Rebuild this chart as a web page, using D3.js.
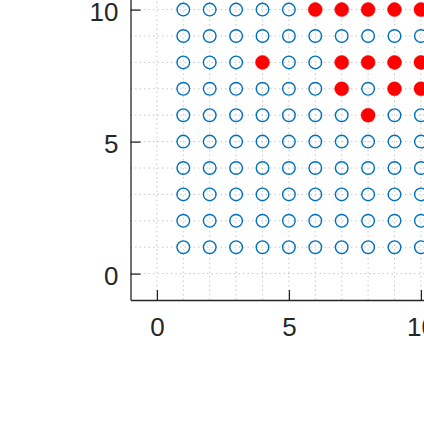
<!DOCTYPE html>
<html>
<head>
<meta charset="utf-8">
<script src="https://cdn.jsdelivr.net/npm/d3@7"></script>
<style>
  html, body { margin: 0; padding: 0; background: #fff; }
  svg { display: block; }
</style>
</head>
<body>
<div id="chart"></div>
<script>
'use strict';
// grid of markers: x columns and y rows
const cols = [1, 2, 3, 4, 5, 6, 7, 8, 9, 10];
const rows = [1, 2, 3, 4, 5, 6, 7, 8, 9, 10];
// highlighted (red) markers, as [x, y]
const filledX = [6, 7, 8, 9, 10, 4, 7, 8, 9, 10, 7, 9, 10, 8];
const filledY = [10, 10, 10, 10, 10, 8, 8, 8, 8, 8, 7, 7, 7, 6];
const xTicks = [0, 5, 10];
const yTicks = [0, 5, 10];
const gridVals = [0, 1, 2, 3, 4, 5, 6, 7, 8, 9, 10];

const W = 424, H = 428;
const unit = 26.4;
const x0 = 130.5, yBase = 300;

const x = d3.scaleLinear().domain([-1, 11]).range([x0, x0 + 12 * unit]);
const y = d3.scaleLinear().domain([-1, 11]).range([yBase, yBase - 12 * unit]);

const svg = d3.select('#chart').append('svg')
  .attr('width', W)
  .attr('height', H);

const font = '"Liberation Sans", Arial, Helvetica, sans-serif';

// dotted grid
const grid = svg.append('g').attr('class', 'grid');
grid.selectAll('line.gx')
  .data(gridVals)
  .enter().append('line')
  .attr('class', 'gx')
  .attr('x1', d => x(d)).attr('x2', d => x(d))
  .attr('y1', y(-1)).attr('y2', y(11))
  .attr('stroke', '#c8c8c8')
  .attr('stroke-width', 1)
  .attr('stroke-dasharray', '1.5,3');
grid.selectAll('line.gy')
  .data(gridVals)
  .enter().append('line')
  .attr('class', 'gy')
  .attr('y1', d => y(d)).attr('y2', d => y(d))
  .attr('x1', x(-1)).attr('x2', x(11))
  .attr('stroke', '#c8c8c8')
  .attr('stroke-width', 1)
  .attr('stroke-dasharray', '1.5,3');

// markers
let points = [];
rows.forEach(function(r) {
  cols.forEach(function(c) {
    points.push({ x: c, y: r });
  });
});
const isFilled = (d) => filledX.some((fx, i) => fx === d.x && filledY[i] === d.y);

svg.append('g').attr('class', 'open')
  .selectAll('circle')
  .data(points.filter(d => !isFilled(d)))
  .enter().append('circle')
  .attr('cx', d => x(d.x))
  .attr('cy', d => y(d.y))
  .attr('r', 6.3)
  .attr('fill', 'none')
  .attr('stroke', '#0072bd')
  .attr('stroke-width', 1.4);

svg.append('g').attr('class', 'filled')
  .selectAll('circle')
  .data(filledX.map((fx, i) => ({ x: fx, y: filledY[i] })))
  .enter().append('circle')
  .attr('cx', d => x(d.x))
  .attr('cy', d => y(d.y))
  .attr('r', 7)
  .attr('fill', '#ff0000')
  .attr('stroke', '#ff0000')
  .attr('stroke-width', 0.5);

// axes (ticks pointing inward)
const xAxis = svg.append('g')
  .attr('transform', 'translate(0,' + yBase + ')')
  .call(d3.axisBottom(x).tickValues(xTicks).tickSizeInner(-10).tickSizeOuter(0).tickPadding(18));
const yAxis = svg.append('g')
  .attr('transform', 'translate(' + x0 + ',0)')
  .call(d3.axisLeft(y).tickValues(yTicks).tickSizeInner(-10).tickSizeOuter(0).tickPadding(12));

[xAxis, yAxis].forEach(function(a) {
  a.select('.domain').attr('stroke', '#262626').attr('stroke-width', 1.3);
  a.selectAll('.tick line').attr('stroke', '#262626').attr('stroke-width', 1.3);
  a.selectAll('.tick text')
    .attr('fill', '#262626')
    .style('font-family', font)
    .style('font-size', '26px');
});
yAxis.selectAll('.tick text').attr('dy', '0.42em');
</script>
</body>
</html>
